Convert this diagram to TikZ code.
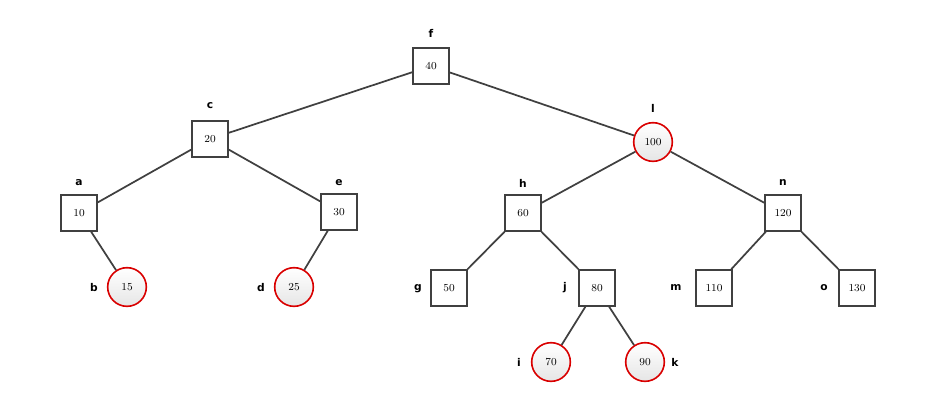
\documentclass[tikz,border=0pt]{standalone}
\usepackage{fontspec}
\setsansfont{DejaVu Sans}
\begin{document}
\begin{tikzpicture}[x=0.75pt,y=-0.75pt,
  bx/.style={draw=black!75,line width=1.1pt,minimum size=27pt,inner sep=0pt,fill=white,font=\footnotesize},
  rc/.style={circle,draw=red!85!black,line width=1.2pt,minimum size=29pt,inner sep=0pt,top color=white,bottom color=black!10,font=\footnotesize},
  lb/.style={font=\sffamily\bfseries\footnotesize},
  ed/.style={draw=black!75,line width=1.3pt}]
\useasboundingbox (0,0) rectangle (930,415);
\node[bx] (f) at (431,66) {40};
\node[bx] (c) at (210,139) {20};
\node[rc] (l) at (653,142) {100};
\node[bx] (a) at (79,213) {10};
\node[bx] (e) at (339,212) {30};
\node[bx] (h) at (523,213) {60};
\node[bx] (n) at (783,213) {120};
\node[rc] (b) at (127,287) {15};
\node[rc] (d) at (294,287) {25};
\node[bx] (g) at (449,288) {50};
\node[bx] (j) at (597,288) {80};
\node[bx] (m) at (714,288) {110};
\node[bx] (o) at (857,288) {130};
\node[rc] (i) at (551,362) {70};
\node[rc] (k) at (645,362) {90};
\foreach \u/\v in {f/c,f/l,c/a,c/e,l/h,l/n,a/b,e/d,h/g,h/j,n/m,n/o,j/i,j/k}
  \draw[ed] (\u) -- (\v);
\node[lb] (tf) at (431,33) {f};
\node[lb] (tc) at (210,106) {c};
\node[lb] (tl) at (653,108) {l};
\node[lb] (ta) at (79,183) {a};
\node[lb] (te) at (339,183) {e};
\node[lb] (th) at (523,183) {h};
\node[lb] (tn) at (783,183) {n};
\node[lb] (tb) at (94,288) {b};
\node[lb] (td) at (261,288) {d};
\node[lb] (tg) at (418,289) {g};
\node[lb] (tj) at (565,288) {j};
\node[lb] (tm) at (676,288) {m};
\node[lb] (to) at (824,288) {o};
\node[lb] (ti) at (519,362) {i};
\node[lb] (tk) at (675,362) {k};
\end{tikzpicture}
\end{document}
